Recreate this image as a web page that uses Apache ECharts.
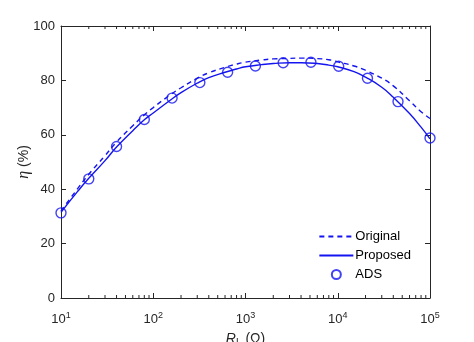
<!DOCTYPE html>
<html><head><meta charset="utf-8">
<script src="https://cdn.jsdelivr.net/npm/echarts@6/dist/echarts.min.js"></script>
<style>html,body{margin:0;padding:0;background:#fff}#c{width:474px;height:342px}</style>
</head><body><div id="c"></div>
<script>
// ---- data ----
const lineX = [10,15,20,30,40,60,80,100,150,200,300,400,600,800,1000,1500,2000,3000,4000,6000,8000,10000,15000,20000,30000,40000,60000,80000,100000];
const proposedY = [31.5,39,44,50.5,55.5,61.5,65.5,68,72.5,75.5,79,81,83,84.2,85,85.8,86.2,86.5,86.5,86.2,85.6,85,83.2,81.2,77.5,73.8,67.8,62.8,58.5];
const originalY = [32,40,45.5,52.3,57.3,63.3,67.3,70,74.5,77.3,80.8,82.8,84.8,86,86.7,87.5,87.9,88.1,88.2,88.0,87.6,86.8,85.3,83.7,80.8,78,72.5,68.5,66];
const adsX = [10,20,40,80,160,320,640,1280,2560,5120,10240,21000,45000,100000];
const adsY = [31.3,43.8,55.7,65.6,73.5,79.2,83.0,85.3,86.5,86.7,85.2,80.8,72.2,58.8];
const yTicks = [0,20,40,60,80,100];
const seriesNames = ['Original','Proposed','ADS'];

const BLUE = '#1414f0';
const AX = '#262626';
const chart = echarts.init(document.getElementById('c'));
const axisCommon = {
  axisLine:{show:true,onZero:false,lineStyle:{color:AX,width:1}},
  splitLine:{show:false}
};
const option = {
  backgroundColor:'#fff',
  animation:false,
  grid:{left:61,right:44,top:26,bottom:44,outerBoundsMode:'none',containLabel:false},
  legend:{
    orient:'vertical', right:58, top:225, itemWidth:34, itemHeight:9, itemGap:6,
    data:[
      {name:seriesNames[0],itemStyle:{opacity:0}},
      {name:seriesNames[1],itemStyle:{opacity:0}},
      {name:seriesNames[2]}
    ],
    textStyle:{fontFamily:'Liberation Sans',fontSize:13,color:'#000',padding:[0,0,0,-3]},
    selectedMode:false
  },
  xAxis:[
    Object.assign({type:'log',logBase:10,min:10,max:100000,position:'bottom',
      axisTick:{inside:true,length:5,lineStyle:{color:AX}},
      axisLabel:{margin:13,color:AX,formatter:v=>'{b|10}{s|'+Math.round(Math.log10(v))+'}',
        rich:{b:{fontFamily:'Liberation Sans',fontSize:13,color:AX},s:{fontFamily:'Liberation Sans',fontSize:9,color:AX,verticalAlign:'bottom',padding:[0,0,8,0]}}},
      name:'{i|R}{sub|L}{n| (Ω)}',nameLocation:'middle',nameGap:32,nameMoveOverlap:false,
      nameTextStyle:{rich:{i:{fontFamily:'Liberation Sans',fontStyle:'italic',fontSize:14,color:AX},sub:{fontFamily:'Liberation Sans',fontSize:10,color:AX,verticalAlign:'top',padding:[8,0,0,0]},n:{fontFamily:'Liberation Sans',fontSize:14,color:AX}}}
    },axisCommon),
    Object.assign({type:'log',logBase:10,min:10,max:100000,position:'top',
      axisTick:{inside:true,length:5,lineStyle:{color:AX}},axisLabel:{show:false}},axisCommon)
  ],
  yAxis:[
    Object.assign({type:'value',min:0,max:100,interval:20,position:'left',
      axisTick:{inside:true,length:5,lineStyle:{color:AX}},
      axisLabel:{margin:6,color:AX,fontFamily:'Liberation Sans',fontSize:13},
      name:'{i|η} (%)',nameLocation:'middle',nameGap:29,nameMoveOverlap:false,
      nameTextStyle:{fontFamily:'Liberation Sans',fontSize:14,color:AX,rich:{i:{fontFamily:'Liberation Serif',fontStyle:'italic',fontSize:16,color:AX}}}
    },axisCommon),
    Object.assign({type:'value',min:0,max:100,interval:20,position:'right',
      axisTick:{inside:true,length:5,lineStyle:{color:AX}},axisLabel:{show:false}},axisCommon)
  ],
  series:[
    {name:seriesNames[0],type:'line',showSymbol:false,symbol:'none',smooth:true,
      data:lineX.map((x,i)=>[x,originalY[i]]),lineStyle:{color:BLUE,width:1.4,type:[5,4]},itemStyle:{color:BLUE}},
    {name:seriesNames[1],type:'line',showSymbol:false,symbol:'none',smooth:true,
      data:lineX.map((x,i)=>[x,proposedY[i]]),lineStyle:{color:BLUE,width:1.4},itemStyle:{color:BLUE}},
    {name:seriesNames[2],type:'scatter',symbol:'circle',symbolSize:10,
      data:adsX.map((x,i)=>[x,adsY[i]]),itemStyle:{color:'rgba(0,0,0,0)',borderColor:BLUE,borderWidth:1.4}}
  ]
};
chart.setOption(option);

// minor ticks on log axes (2..9 x 10^k), positioned via the axis scale
const minor = [];
const els = [];
for (let k=1;k<5;k++) for (let m=2;m<=9;m++) minor.push(m*Math.pow(10,k));
minor.forEach(v=>{
  const px = chart.convertToPixel({xAxisIndex:0},v);
  const yb = chart.convertToPixel({yAxisIndex:0},0);
  const yt = chart.convertToPixel({yAxisIndex:0},100);
  els.push({type:'line',shape:{x1:px,y1:yb,x2:px,y2:yb-3},style:{stroke:AX,lineWidth:1}});
  els.push({type:'line',shape:{x1:px,y1:yt,x2:px,y2:yt+3},style:{stroke:AX,lineWidth:1}});
});
chart.setOption({graphic:els});
</script></body></html>
